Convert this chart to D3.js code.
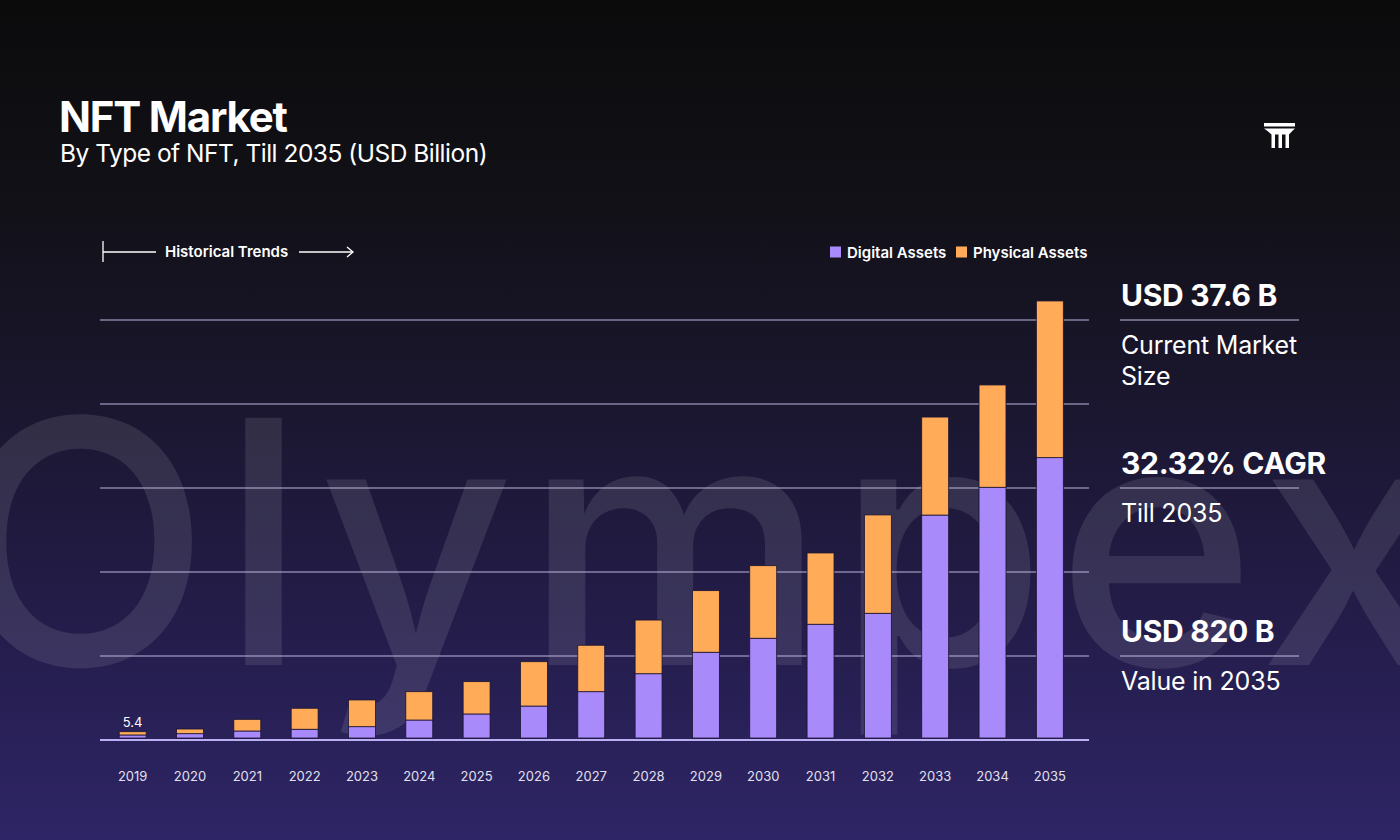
<!DOCTYPE html>
<html>
<head>
<meta charset="utf-8">
<script src="https://cdn.jsdelivr.net/npm/d3@7"></script>
<style>
  html, body { margin: 0; padding: 0; background: #0c0c0e; }
  svg { display: block; font-family: Inter, "Noto Sans", sans-serif; }
</style>
</head>
<body>
<svg id="chart" width="1400" height="840"></svg>
<script>
// Chart data (USD Billion)
const years = ["2019", "2020", "2021", "2022", "2023", "2024", "2025", "2026", "2027",
  "2028", "2029", "2030", "2031", "2032", "2033", "2034", "2035"];
const digitalAssets = [2.6, 3.7, 6.0, 7.5, 9.7, 15.4, 20.6, 27.4, 39.7, 55.1, 73.5, 85.5,
  97.5, 106.9, 191.1, 214.9, 240.3];
const physicalAssets = [2.8, 4.0, 10.0, 18.0, 22.9, 24.3, 27.7, 38.0, 39.8, 46.0, 52.8, 62.2,
  61.1, 84.3, 84.0, 87.7, 134.3];
const gridValues = [0, 72, 144, 216, 288, 360];
const seriesNames = ["Digital Assets", "Physical Assets"];
const firstBarLabel = "5.4";
const statValues = ["USD 37.6 B", "32.32% CAGR", "USD 820 B"];
const statLabels = [["Current Market", "Size"], ["Till 2035"], ["Value in 2035"]];

const DIGITAL_COLOR = "#a88afb";
const PHYSICAL_COLOR = "#ffab57";
const BAR_GAP = 2;

const svg = d3.select("#chart");

// background
const defs = svg.append("defs");
const bg = defs.append("linearGradient")
  .attr("id", "bg").attr("x1", 0).attr("y1", 0).attr("x2", 0).attr("y2", 1);
[[0, "#0b0b0c"], [0.25, "#121118"], [0.5, "#1b1731"], [0.75, "#241d4b"], [1, "#2e2566"]]
  .forEach(([o, c]) => bg.append("stop").attr("offset", o).attr("stop-color", c));
svg.append("rect").attr("width", 1400).attr("height", 840).attr("fill", "url(#bg)");

// watermark
svg.append("text")
  .attr("x", -50).attr("y", 665)
  .attr("font-size", 340).attr("font-weight", 500)
  .attr("letter-spacing", 10)
  .attr("fill", "#ffffff").attr("fill-opacity", 0.1)
  .text("Olympex");

// title
svg.append("text")
  .attr("x", 59).attr("y", 132)
  .attr("font-size", 42).attr("font-weight", 700).attr("letter-spacing", -1.2)
  .attr("fill", "#ffffff")
  .text("NFT Market");
svg.append("text")
  .attr("x", 60).attr("y", 162)
  .attr("font-size", 24.5).attr("font-weight", 400).attr("letter-spacing", -0.5)
  .attr("fill", "#ffffff")
  .text("By Type of NFT, Till 2035 (USD Billion)");

// logo
const logo = svg.append("g").attr("fill", "#ffffff");
logo.append("rect").attr("x", 1264).attr("y", 123).attr("width", 31).attr("height", 3.5);
logo.append("path").attr("d",
  "M1264,128.5 H1295 Q1292,131 1289,134.5 V148 H1285.5 V134.5 H1282 V148 H1278.5 V134.5 " +
  "H1275 V148 H1271.5 V134.5 Q1268,131 1264,128.5 Z");

// scales
const x = d3.scaleBand()
  .domain(years)
  .range([104, 1078.5])
  .paddingInner(0.53)
  .paddingOuter(0.265);

const y = d3.scaleLinear()
  .domain([0, 360])
  .range([740, 320]);

// grid
svg.append("g")
  .selectAll("line")
  .data(gridValues)
  .join("line")
  .attr("x1", 100).attr("x2", 1089)
  .attr("y1", d => y(d)).attr("y2", d => y(d))
  .attr("stroke", d => d === 0 ? "#bcaef2" : "#bdb8de")
  .attr("stroke-width", d => d === 0 ? 2 : 1);

// stacked bars
const rows = years.map((yr, i) => ({year: yr, digital: digitalAssets[i], physical: physicalAssets[i]}));
const stacked = d3.stack().keys(["digital", "physical"])(rows);
const colors = {digital: DIGITAL_COLOR, physical: PHYSICAL_COLOR};

svg.append("g")
  .selectAll("g")
  .data(stacked)
  .join("g")
  .attr("fill", d => colors[d.key])
  .selectAll("rect")
  .data(d => d)
  .join("rect")
  .attr("x", d => x(d.data.year))
  .attr("y", d => y(d[1]) - BAR_GAP)
  .attr("width", x.bandwidth())
  .attr("height", d => y(d[0]) - y(d[1]))
  .attr("stroke", "#1a1433")
  .attr("stroke-width", 0.8);

// value label on the first bar
svg.append("text")
  .attr("x", x(years[0]) + x.bandwidth() / 2)
  .attr("y", y(digitalAssets[0] + physicalAssets[0]) - BAR_GAP - 5)
  .attr("text-anchor", "middle")
  .attr("font-size", 13).attr("fill", "#ffffff")
  .text(firstBarLabel);

// x axis labels
svg.append("g")
  .selectAll("text")
  .data(years)
  .join("text")
  .attr("x", d => x(d) + x.bandwidth() / 2)
  .attr("y", 781)
  .attr("text-anchor", "middle")
  .attr("font-size", 13).attr("fill", "#e2e0ee")
  .text(d => d);

// historical trends marker
const hist = svg.append("g").attr("stroke", "#ffffff").attr("stroke-width", 1.3).attr("fill", "none");
hist.append("line").attr("x1", 103).attr("x2", 103).attr("y1", 241).attr("y2", 262);
hist.append("line").attr("x1", 103).attr("x2", 156).attr("y1", 252).attr("y2", 252);
hist.append("line").attr("x1", 299).attr("x2", 353).attr("y1", 252).attr("y2", 252);
hist.append("path").attr("d", "M347,247 L353,252 L347,257");
svg.append("text")
  .attr("x", 165).attr("y", 257)
  .attr("font-size", 15).attr("font-weight", 600).attr("fill", "#ffffff")
  .text("Historical Trends");

// legend
const legendX = [830, 956];
seriesNames.forEach((name, i) => {
  svg.append("rect")
    .attr("x", legendX[i]).attr("y", 246.5)
    .attr("width", 11).attr("height", 11)
    .attr("fill", i === 0 ? DIGITAL_COLOR : PHYSICAL_COLOR);
  svg.append("text")
    .attr("x", legendX[i] + 17).attr("y", 257.5)
    .attr("font-size", 15).attr("font-weight", 600).attr("fill", "#ffffff")
    .text(name);
});

// right panel stats
const statLineY = [320, 488, 656];
statValues.forEach((v, i) => {
  const ly = statLineY[i];
  svg.append("text")
    .attr("x", 1121).attr("y", ly - 14)
    .attr("font-size", 30).attr("font-weight", 700).attr("letter-spacing", -0.3)
    .attr("fill", "#ffffff")
    .text(v);
  svg.append("line")
    .attr("x1", 1120).attr("x2", 1299)
    .attr("y1", ly).attr("y2", ly)
    .attr("stroke", "#c2bde0").attr("stroke-width", 1);
  statLabels[i].forEach((t, j) => {
    svg.append("text")
      .attr("x", 1121).attr("y", ly + 34 + j * 31)
      .attr("font-size", 25).attr("font-weight", 400).attr("letter-spacing", -0.2)
      .attr("fill", "#ffffff")
      .text(t);
  });
});
</script>
</body>
</html>
